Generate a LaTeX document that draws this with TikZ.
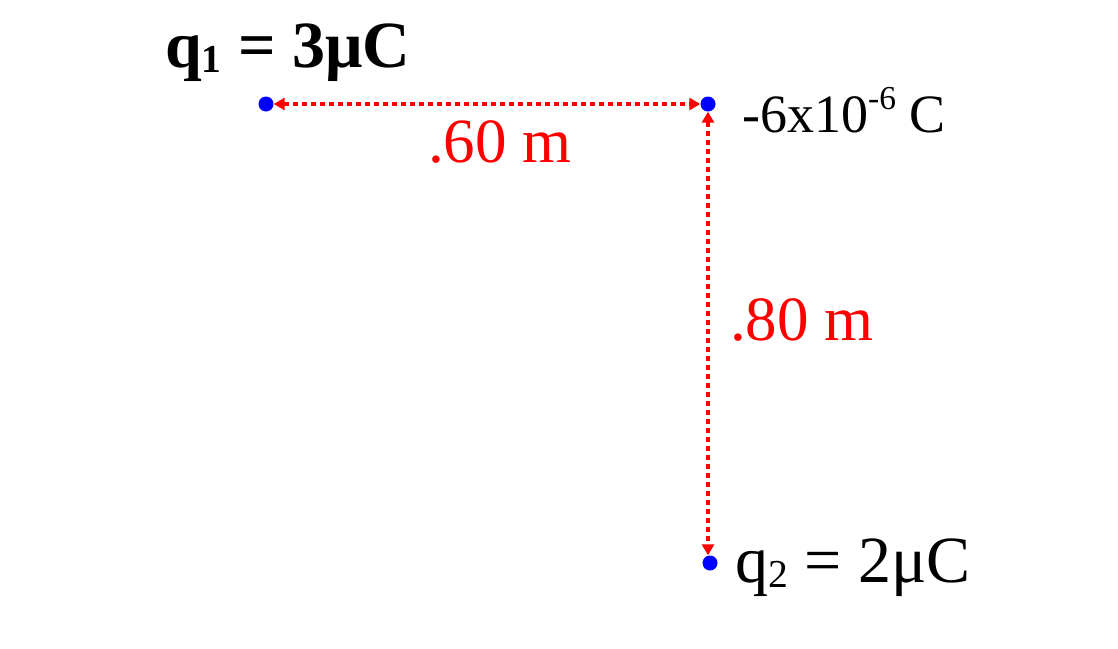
\documentclass[tikz,border=0pt]{standalone}
\usepackage{fontspec}
\setmainfont{Liberation Serif}
\usetikzlibrary{arrows.meta}
\newcommand{\lowsub}[1]{\raisebox{-0.08em}{\fontsize{0.6em}{0.6em}\selectfont #1}}
\newcommand{\highsup}[1]{\raisebox{0.42em}{\fontsize{0.62em}{0.62em}\selectfont #1}}
\begin{document}
\begin{tikzpicture}[x=1pt,y=-1pt,
  charge/.style={circle,fill=blue,inner sep=0pt,minimum size=15pt},
  dist/.style={draw=red,line width=4pt,dash pattern=on 4.5pt off 4.5pt,
    {Triangle[length=11pt,width=12pt,fill=red]}-{Triangle[length=11pt,width=12pt,fill=red]},shorten <=0pt,shorten >=0pt},
  lbl/.style={inner sep=0pt,anchor=base west},
  big/.style={font=\fontsize{63}{66}\selectfont}]
\useasboundingbox[fill=white] (0,0) rectangle (1118,648);
\node[charge] (q1) at (266,104) {};
\node[charge] (q3) at (708,104) {};
\node[charge] (q2) at (710,563) {};
\draw[dist] (q1.east) -- (q3.west);
\draw[dist] (q3.south) -- (q3.south |- q2.north);
\node[lbl,font=\fontsize{66}{70}\selectfont\bfseries] (l1) at (165,67) {q\lowsub{1} = 3μC};
\node[lbl,font=\fontsize{54}{58}\selectfont] (l3) at (742,132) {-6x10\highsup{-6} C};
\node[lbl,big,text=red] (d1) at (428,162) {.60 m};
\node[lbl,big,text=red] (d2) at (730,340) {.80 m};
\node[lbl,font=\fontsize{66}{70}\selectfont] (l2) at (735,582) {q\lowsub{2} = 2μC};
\end{tikzpicture}
\end{document}
